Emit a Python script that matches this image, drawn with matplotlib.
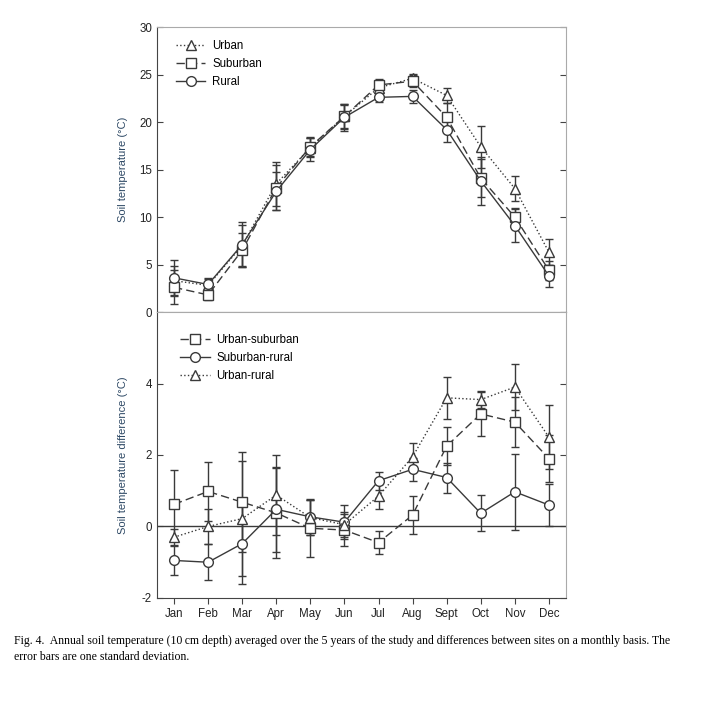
import matplotlib.pyplot as plt
import numpy as np

plt.rcParams['font.family'] = ['Liberation Sans', 'DejaVu Sans']
plt.rcParams['axes.unicode_minus'] = False

months = ['Jan', 'Feb', 'Mar', 'Apr', 'May', 'Jun', 'Jul', 'Aug', 'Sept', 'Oct', 'Nov', 'Dec']

# soil temperature (°C) at 10 cm
urban = [3.3, 2.8, 7.0, 13.5, 17.3, 20.6, 23.6, 24.6, 22.8, 17.4, 13.0, 6.3]
urban_sd = [1.5, 0.7, 2.2, 2.3, 1.0, 1.2, 0.6, 0.5, 0.8, 2.2, 1.3, 1.4]
suburban = [2.6, 1.8, 6.5, 13.1, 17.4, 20.6, 23.9, 24.3, 20.5, 14.1, 10.0, 4.4]
suburban_sd = [1.8, 0.5, 1.8, 2.4, 1.0, 1.3, 0.6, 0.6, 1.5, 2.0, 1.0, 1.0]
rural = [3.6, 2.9, 7.1, 12.7, 17.1, 20.5, 22.6, 22.7, 19.2, 13.8, 9.1, 3.8]
rural_sd = [1.9, 0.7, 2.4, 2.0, 1.2, 1.4, 0.5, 0.7, 1.3, 2.5, 1.7, 1.2]

# differences between sites
urb_sub = [0.62, 0.98, 0.68, 0.38, -0.05, -0.1, -0.45, 0.32, 2.25, 3.15, 2.92, 1.9]
urb_sub_sd = [0.97, 0.82, 1.4, 1.27, 0.8, 0.45, 0.32, 0.53, 0.52, 0.62, 0.7, 0.65]
sub_rur = [-0.95, -1.0, -0.48, 0.48, 0.27, 0.12, 1.28, 1.6, 1.37, 0.37, 0.97, 0.6]
sub_rur_sd = [0.4, 0.5, 1.12, 1.18, 0.5, 0.48, 0.25, 0.32, 0.42, 0.5, 1.06, 0.6]
urb_rur = [-0.3, 0.0, 0.22, 0.88, 0.25, 0.05, 0.85, 1.95, 3.6, 3.55, 3.9, 2.5]
urb_rur_sd = [0.23, 0.5, 1.6, 1.12, 0.5, 0.35, 0.35, 0.38, 0.58, 0.23, 0.65, 0.9]

x = np.arange(1, 13)
lc = '#3a3a3a'
mk = dict(markersize=7, markerfacecolor='white', markeredgecolor=lc, markeredgewidth=1.0)
eb = dict(capsize=3, elinewidth=1.0, ecolor=lc, color=lc, linewidth=1.0)

fig = plt.figure(figsize=(7.02, 7.08), dpi=100)
ax1 = fig.add_axes([0.2236, 0.5593, 0.5826, 0.4025])
ax2 = fig.add_axes([0.2236, 0.1554, 0.5826, 0.4039])


def style(ax):
    ax.set_xlim(0.5, 12.5)
    ax.set_xticks(x)
    for s in ['left', 'bottom']:
        ax.spines[s].set_color('#444444')
    for s in ['top', 'right']:
        ax.spines[s].set_color('#aaaaaa')
    ax.tick_params(axis='y', direction='in', right=True, length=4, color='#444444',
                   labelsize=8.3, labelcolor='#222222')
    ax.tick_params(axis='x', direction='out', length=4, color='#444444',
                   labelsize=8.3, labelcolor='#222222')


def add_legend(ax, containers, anchor):
    # legend from the data lines only, no error bars in the handles
    handles = [c[0] for c in containers]
    labels = [c.get_label() for c in containers]
    ax.legend(handles, labels, loc='upper left', frameon=False, fontsize=8.3,
              handlelength=2.6, bbox_to_anchor=anchor, labelspacing=0.52,
              handletextpad=0.6)


# top panel
c1 = ax1.errorbar(x, urban, yerr=urban_sd, marker='^', linestyle=':', label='Urban', **mk, **eb)
c2 = ax1.errorbar(x, suburban, yerr=suburban_sd, marker='s', linestyle=(0, (6, 3)), label='Suburban', **mk, **eb)
c3 = ax1.errorbar(x, rural, yerr=rural_sd, marker='o', linestyle='-', label='Rural', **mk, **eb)
style(ax1)
ax1.set_ylim(0, 30)
ax1.set_yticks(range(0, 31, 5))
ax1.set_xticklabels([])
ax1.set_ylabel('Soil temperature (°C)', fontsize=8, color='#2f4a66')
ax1.yaxis.set_label_coords(-0.07, 0.5)
add_legend(ax1, [c1, c2, c3], (0.02, 0.99))

# bottom panel
ax2.axhline(0, color=lc, linewidth=1.0)
d1 = ax2.errorbar(x, urb_sub, yerr=urb_sub_sd, marker='s', linestyle=(0, (6, 3)), label='Urban-suburban', **mk, **eb)
d2 = ax2.errorbar(x, sub_rur, yerr=sub_rur_sd, marker='o', linestyle='-', label='Suburban-rural', **mk, **eb)
d3 = ax2.errorbar(x, urb_rur, yerr=urb_rur_sd, marker='^', linestyle=':', label='Urban-rural', **mk, **eb)
style(ax2)
ax2.set_ylim(-2, 6)
ax2.set_yticks([-2, 0, 2, 4])
ax2.set_xticklabels(months)
ax2.set_ylabel('Soil temperature difference (°C)', fontsize=8, color='#2f4a66')
ax2.yaxis.set_label_coords(-0.07, 0.5)
add_legend(ax2, [d1, d2, d3], (0.03, 0.96))

caption = ('Fig. 4.  Annual soil temperature (10\u2009cm depth) averaged over the 5 years of the study and differences between sites on a monthly basis. The\n'
           'error bars are one standard deviation.')
fig.text(0.02, 0.103, caption, family=['Liberation Serif', 'DejaVu Serif'],
         fontsize=8.45, va='top', ha='left', linespacing=1.45)

fig.savefig('out.png', dpi=100)
